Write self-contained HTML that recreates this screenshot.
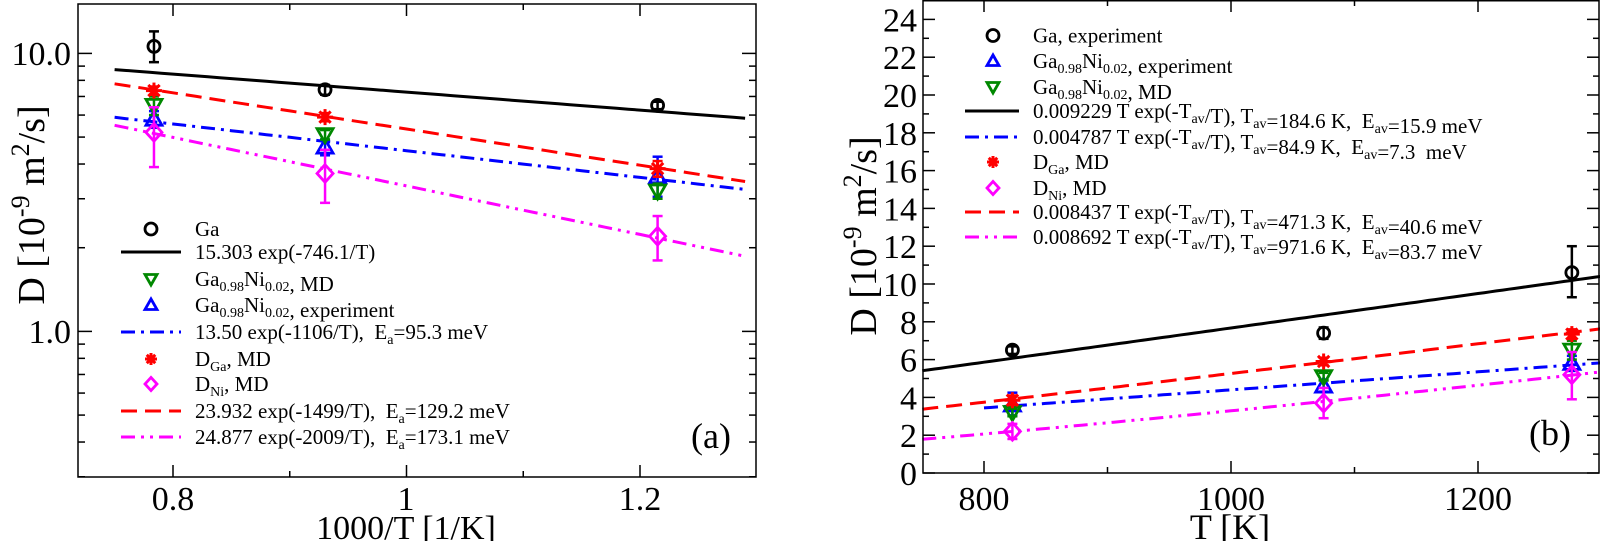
<!DOCTYPE html>
<html><head><meta charset="utf-8"><style>
html,body{margin:0;padding:0;background:#fff;width:1600px;height:541px;overflow:hidden}
svg, svg text, svg tspan{font-family:"Liberation Serif","Times New Roman","DejaVu Serif",serif}
</style></head><body>
<svg id="s" width="1600" height="541" xmlns="http://www.w3.org/2000/svg" font-family="Liberation Serif, Times New Roman, serif"></svg>
<script>
var s=document.getElementById('s'),h='';
var FF=' font-family="Liberation Serif, Times New Roman, DejaVu Serif, serif"';
function L(x1,y1,x2,y2,c,w,d){h+='<line x1="'+x1+'" y1="'+y1+'" x2="'+x2+'" y2="'+y2+'" stroke="'+c+'" stroke-width="'+w+'"'+(d?' stroke-dasharray="'+d+'"':'')+'/>';}
function T(x,y,t,sz,a,extra){h+='<text'+FF+' x="'+x+'" y="'+y+'" font-size="'+sz+'" text-anchor="'+(a||'start')+'" '+(extra||'')+'>'+t+'</text>';}
function P(pts,c,w,d){h+='<polyline fill="none" points="'+pts.map(p=>p[0].toFixed(1)+','+p[1].toFixed(1)).join(' ')+'" stroke="'+c+'" stroke-width="'+w+'"'+(d?' stroke-dasharray="'+d+'"':'')+'/>';}
function M(type,x,y,c,r){r=r||6;
 if(type=='o')h+='<circle cx="'+x+'" cy="'+y+'" r="'+r+'" fill="none" stroke="'+c+'" stroke-width="2.8"/>';
 if(type=='up')h+='<polygon points="'+x+','+(y-r)+' '+(x+r)+','+(y+r*0.75)+' '+(x-r)+','+(y+r*0.75)+'" fill="none" stroke="'+c+'" stroke-width="2.8"/>';
 if(type=='dn')h+='<polygon points="'+x+','+(y+r)+' '+(x+r)+','+(y-r*0.75)+' '+(x-r)+','+(y-r*0.75)+'" fill="none" stroke="'+c+'" stroke-width="2.8"/>';
 if(type=='d')h+='<polygon points="'+x+','+(y-r*1.1)+' '+(x+r)+','+y+' '+x+','+(y+r*1.1)+' '+(x-r)+','+y+'" fill="none" stroke="'+c+'" stroke-width="2.8"/>';
 if(type=='*'){for(var k=0;k<4;k++){var a=k*Math.PI/4;L(x-r*Math.cos(a),y-r*Math.sin(a),x+r*Math.cos(a),y+r*Math.sin(a),c,3);} }
}
function E(x,y1,y2,c){L(x,y1,x,y2,c,2.5);L(x-5,y1,x+5,y1,c,2.5);L(x-5,y2,x+5,y2,c,2.5);}
var Ts=[823,1075,1276];
var data={
 ga:{m:'o',c:'#000',v:[6.5,7.4,10.6],e:[[6.3,6.7],[7.1,7.7],[9.3,12.0]]},
 dga:{m:'*',c:'#f00',v:[3.85,5.9,7.35],e:[[3.6,4.1],[5.7,6.1],[7.1,7.6]]},
 gmd:{m:'dn',c:'#080',v:[3.2,5.1,6.5],e:[[3.0,3.4],[4.9,5.3],[6.0,7.0]]},
 gex:{m:'up',c:'#00f',v:[3.6,4.6,5.8],e:[[3.05,4.25],[4.3,4.9],[5.4,6.2]]},
 dni:{m:'d',c:'#f0f',v:[2.2,3.7,5.2],e:[[1.8,2.6],[2.9,4.5],[3.9,6.4]]}};
var order=['gex','gmd','dni','dga','ga'];
var RED='16,8',BLU='14,6,3,6',MAG='14,6,3,6,3,6';
// ---------- LEFT ----------
var X1=x=>173+(x-0.8)*1167.5, Y1=d=>331.4-Math.log10(d)*278;
var fl=[[x=>15.303*Math.exp(-0.7461*x),'#000',null,0.75],
 [x=>23.932*Math.exp(-1.499*x),'#f00',RED,0.75],
 [x=>13.50*Math.exp(-1.106*x),'#00f',BLU,0.75],
 [x=>24.877*Math.exp(-2009e-3*x),'#f0f',MAG,0.75]];
fl.forEach(f=>{var p=[];for(var x=f[3];x<=1.2995;x+=0.01)p.push([X1(x),Y1(f[0](x))]);P(p,f[1],3,f[2]);});
order.forEach(k=>{var d=data[k];Ts.forEach((t,i)=>{var x=X1(1000/t);E(x,Y1(d.e[i][0]),Y1(d.e[i][1]),d.c);M(d.m,x,Y1(d.v[i]),d.c,d.m=='o'?6:8);});});
h+='<rect x="78" y="4" width="678" height="473" fill="none" stroke="#000" stroke-width="1.5"/>';
[0.8,1,1.2].forEach(v=>{L(X1(v),477,X1(v),465,'#000',1.5);L(X1(v),4,X1(v),16,'#000',1.5);});
[0.9,1.1].forEach(v=>{L(X1(v),477,X1(v),471,'#000',1.5);L(X1(v),4,X1(v),10,'#000',1.5);});
[1,10].forEach(v=>{L(78,Y1(v),92,Y1(v),'#000',1.5);L(756,Y1(v),742,Y1(v),'#000',1.5);});
[0.3,0.4,0.5,0.6,0.7,0.8,0.9,2,3,4,5,6,7,8,9].forEach(v=>{L(78,Y1(v),85,Y1(v),'#000',1.5);L(756,Y1(v),749,Y1(v),'#000',1.5);});
T(71,65,'10.0',34,'end');T(71,343,'1.0',34,'end');
T(173,510,'0.8',34,'middle');T(406,510,'1',34,'middle');T(640,510,'1.2',34,'middle');
T(406,539,'1000/T [1/K]',34,'middle');
h+='<text'+FF+' transform="translate(44,205) rotate(-90)" font-size="38" text-anchor="middle">D [10<tspan font-size="26" dy="-15">-9</tspan><tspan dy="15"> m</tspan><tspan font-size="26" dy="-15">2</tspan><tspan dy="15">/s]</tspan></text>';
T(711,448,'(a)',36,'middle');
function sub(t){return '<tspan font-size="14" dy="5">'+t+'</tspan><tspan dy="-5">';}
var GANI='Ga'+sub('0.98')+'Ni</tspan>'+sub('0.02')+'</tspan>';
var leg1=[['o','#000','Ga'],['l','#000','15.303 exp(-746.1/T)'],['dn','#080',GANI+', MD'],['up','#00f',GANI+', experiment'],
 ['l','#00f','13.50 exp(-1106/T),  E'+sub('a')+'=95.3 meV</tspan>',BLU],['*','#f00','D'+sub('Ga')+', MD</tspan>'],['d','#f0f','D'+sub('Ni')+', MD</tspan>'],
 ['l','#f00','23.932 exp(-1499/T),  E'+sub('a')+'=129.2 meV</tspan>',RED],['l','#f0f','24.877 exp(-2009/T),  E'+sub('a')+'=173.1 meV</tspan>',MAG]];
var ly=[229,252,279,305,332,359,384,411,437];
leg1.forEach((r,i)=>{var y=ly[i];if(r[0]=='l')L(121,y,181,y,r[1],3,r[3]);else M(r[0],151,y,r[1],6);
 h+='<text'+FF+' x="195" y="'+(y+7)+'" font-size="21" style="white-space:pre" xml:space="preserve">'+r[2]+'</text>';});
// ---------- RIGHT ----------
var X2=t=>984+(t-800)*1.235, Y2=d=>473-d*18.9;
var fr=[[t=>0.009229*t*Math.exp(-184.6/t),'#000',null,750],
 [t=>0.008437*t*Math.exp(-471.3/t),'#f00',RED,750],
 [t=>0.004787*t*Math.exp(-84.9/t),'#00f',BLU,800],
 [t=>0.008692*t*Math.exp(-971.6/t),'#f0f',MAG,750]];
fr.forEach(f=>{var p=[];for(var t=f[3];t<=1300.1;t+=5)p.push([X2(t),Y2(f[0](t))]);P(p,f[1],3,f[2]);});
order.forEach(k=>{var d=data[k];Ts.forEach((t,i)=>{var x=X2(t);E(x,Y2(d.e[i][0]),Y2(d.e[i][1]),d.c);M(d.m,x,Y2(d.v[i]),d.c,d.m=='o'?6:8);});});
h+='<rect x="923" y="0.75" width="676" height="472.25" fill="none" stroke="#000" stroke-width="1.5"/>';
[800,1000,1200].forEach(v=>{L(X2(v),473,X2(v),461,'#000',1.5);L(X2(v),0,X2(v),12,'#000',1.5);T(X2(v),510,v,34,'middle');});
[900,1100].forEach(v=>{L(X2(v),473,X2(v),467,'#000',1.5);L(X2(v),0,X2(v),6,'#000',1.5);});
for(var v=0;v<=25;v++){var y=Y2(v),ln=v%2==0?12:6;L(923,y,923+ln,y,'#000',1.5);L(1599,y,1599-ln,y,'#000',1.5);if(v%2==0)T(917,y+12,v,34,'end');}
T(1230,539,'T [K]',36,'middle');
h+='<text'+FF+' transform="translate(876,236) rotate(-90)" font-size="38" text-anchor="middle">D [10<tspan font-size="26" dy="-15">-9</tspan><tspan dy="15"> m</tspan><tspan font-size="26" dy="-15">2</tspan><tspan dy="15">/s]</tspan></text>';
T(1550,445,'(b)',36,'middle');
var AV=sub('av')+'</tspan>';
var leg2=[['o','#000','Ga, experiment'],['up','#00f',GANI+', experiment'],['dn','#080',GANI+', MD'],
 ['l','#000','0.009229 T exp(-T'+AV+'/T), T'+AV+'=184.6 K,  E'+AV+'=15.9 meV'],
 ['l','#00f','0.004787 T exp(-T'+AV+'/T), T'+AV+'=84.9 K,  E'+AV+'=7.3  meV',BLU],
 ['*','#f00','D'+sub('Ga')+', MD</tspan>'],['d','#f0f','D'+sub('Ni')+', MD</tspan>'],
 ['l','#f00','0.008437 T exp(-T'+AV+'/T), T'+AV+'=471.3 K,  E'+AV+'=40.6 meV',RED],
 ['l','#f0f','0.008692 T exp(-T'+AV+'/T), T'+AV+'=971.6 K,  E'+AV+'=83.7 meV',MAG]];
var ry=[35.5,61,87,111,137,162,188,212,237];
leg2.forEach((r,i)=>{var y=ry[i];if(r[0]=='l')L(965,y,1019,y,r[1],3,r[3]);else M(r[0],993,y,r[1],6);
 h+='<text'+FF+' x="1033" y="'+(y+7)+'" font-size="21" style="white-space:pre" xml:space="preserve">'+r[2]+'</text>';});
s.innerHTML=h;
</script>
</body></html>
